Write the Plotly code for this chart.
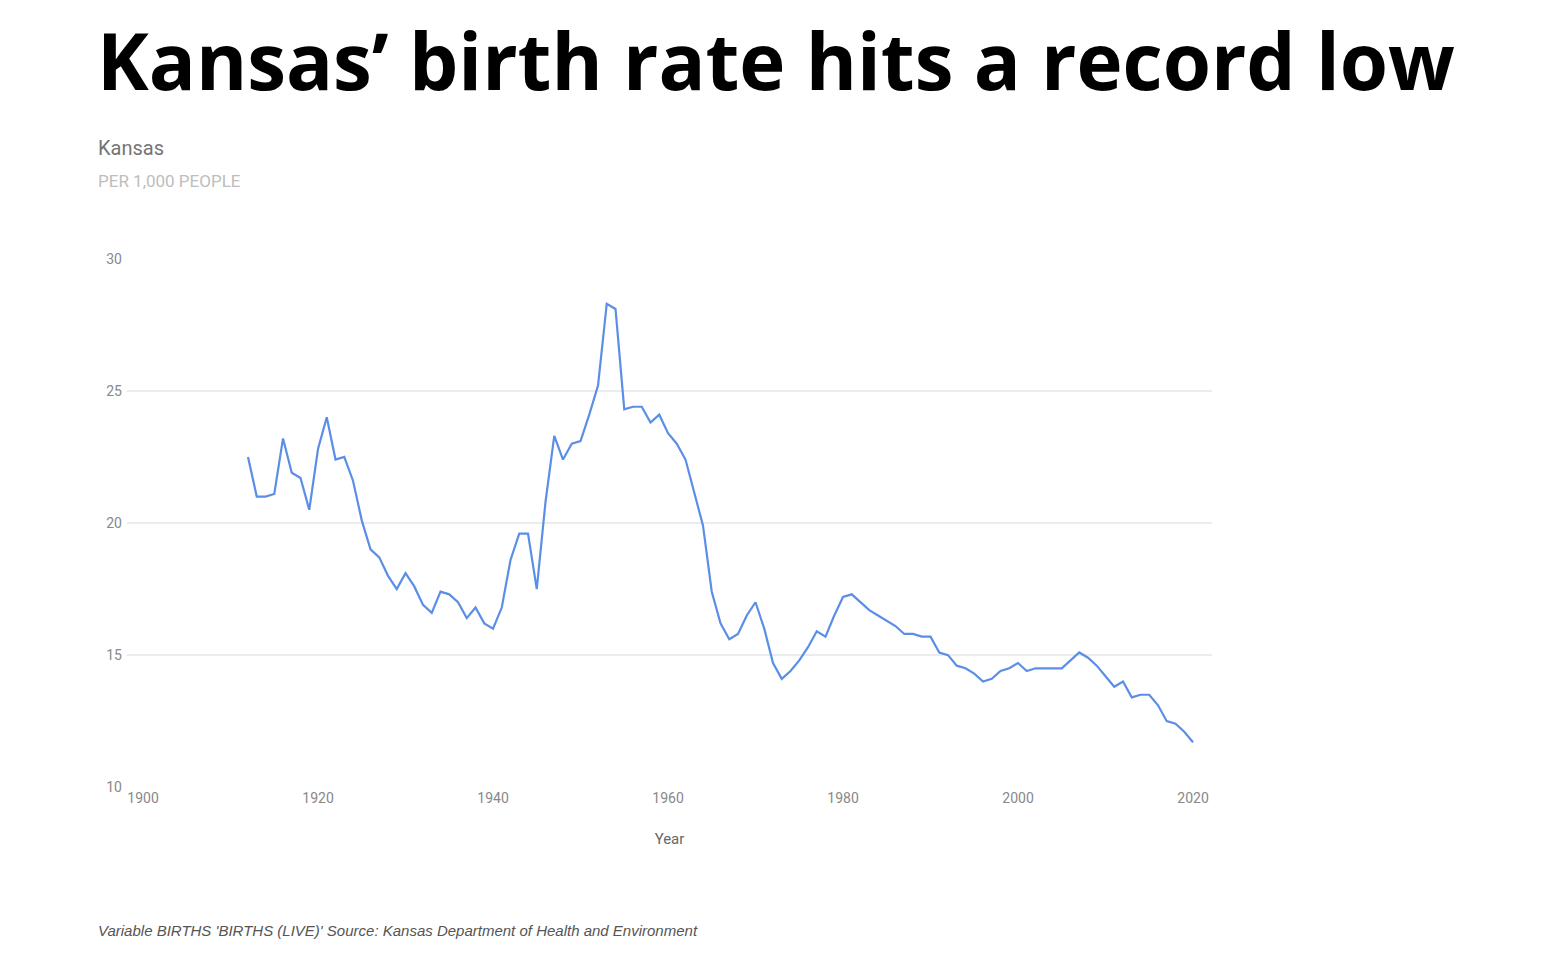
import plotly.graph_objects as go

years = list(range(1912, 2021))
rate = [22.5, 21.0, 21.0, 21.1, 23.2, 21.9, 21.7, 20.5, 22.8, 24.0,
        22.4, 22.5, 21.6, 20.1, 19.0, 18.7, 18.0, 17.5, 18.1, 17.6,
        16.9, 16.6, 17.4, 17.3, 17.0, 16.4, 16.8, 16.2, 16.0, 16.8,
        18.6, 19.6, 19.6, 17.5, 20.8, 23.3, 22.4, 23.0, 23.1, 24.1,
        25.2, 28.3, 28.1, 24.3, 24.4, 24.4, 23.8, 24.1, 23.4, 23.0,
        22.4, 21.2, 19.9, 17.4, 16.2, 15.6, 15.8, 16.5, 17.0, 16.0,
        14.7, 14.1, 14.4, 14.8, 15.3, 15.9, 15.7, 16.5, 17.2, 17.3,
        17.0, 16.7, 16.5, 16.3, 16.1, 15.8, 15.8, 15.7, 15.7, 15.1,
        15.0, 14.6, 14.5, 14.3, 14.0, 14.1, 14.4, 14.5, 14.7, 14.4,
        14.5, 14.5, 14.5, 14.5, 14.8, 15.1, 14.9, 14.6, 14.2, 13.8,
        14.0, 13.4, 13.5, 13.5, 13.1, 12.5, 12.4, 12.1, 11.7]
x_ticks = [1900, 1920, 1940, 1960, 1980, 2000, 2020]
y_ticks = [10, 15, 20, 25, 30]

OFF = 8  # page offset
L, R, T, B = 127 - OFF, 340 + OFF, 258 - OFF, 166 + OFF

fig = go.Figure(go.Scatter(x=years, y=rate, mode="lines",
                           line=dict(color="#5b8ee6", width=2.2),
                           hoverinfo="x+y"))
fig.update_layout(
    width=1552, height=954, paper_bgcolor="white", plot_bgcolor="white",
    margin=dict(l=L, r=R, t=T, b=B), showlegend=False,
    font=dict(family="Roboto, Arial, sans-serif", color="#777"),
    xaxis=dict(range=[1898.17, 2022.17], tickvals=x_ticks, showgrid=False,
               zeroline=False, showline=False, ticks="",
               tickfont=dict(size=14, color="#888"),
               title=dict(text="Year", font=dict(size=15, color="#666"), standoff=28)),
    yaxis=dict(range=[9.97, 30.03], tickvals=y_ticks, gridcolor="#ececec",
               gridwidth=1.5, zeroline=False, showline=False, ticks="",
               tickfont=dict(size=14, color="#888"), ticklabelstandoff=4),
    annotations=[
        dict(text="<b>Kansas’ birth rate hits a record low</b>", x=776, y=60,
             showarrow=False, xanchor="center", yanchor="middle",
             font=dict(family="Open Sans", size=78, color="#000")),
        dict(text="Kansas", x=96, y=148, showarrow=False, xanchor="left",
             yanchor="middle", font=dict(size=20, color="#757575")),
        dict(text="PER 1,000 PEOPLE", x=96, y=181, showarrow=False,
             xanchor="left", yanchor="middle", font=dict(size=17, color="#bdbdbd")),
        dict(text="<i>Variable BIRTHS 'BIRTHS (LIVE)' Source: Kansas Department of Health and Environment</i>",
             x=96, y=930, showarrow=False, xanchor="left", yanchor="middle",
             font=dict(family="Liberation Sans, Arial", size=15, color="#555")),
    ],
)
pw, ph = 1552 - L - R, 954 - T - B
for a in fig.layout.annotations:
    a.xref = "paper"; a.yref = "paper"
    a.x = (a.x - OFF - L) / pw
    a.y = (954 - B - (a.y - OFF)) / ph
fig.write_html("out.html")
